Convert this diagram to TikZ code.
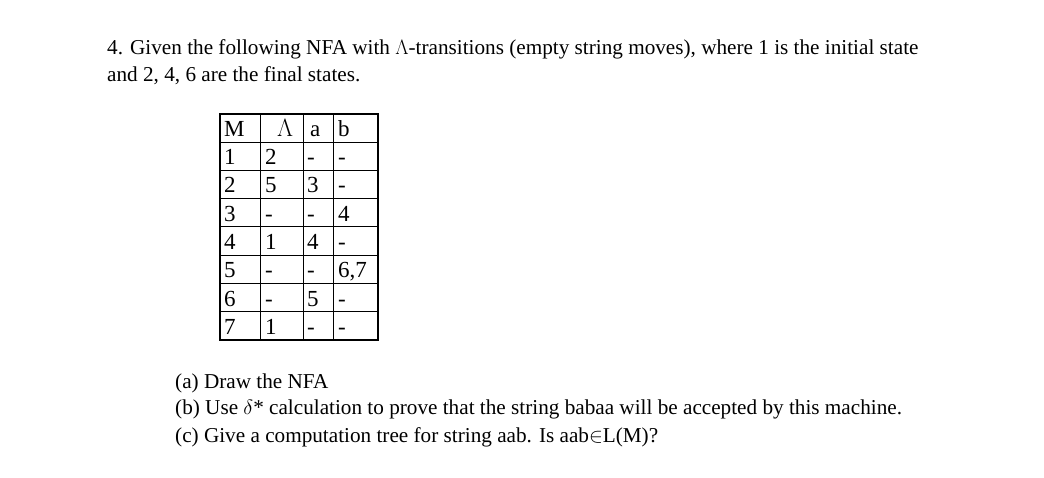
\documentclass[tikz,border=0pt]{standalone}
\usepackage{fontspec}
\setmainfont{Liberation Serif}
\begin{document}
\begin{tikzpicture}[x=1pt,y=-1pt,txt/.style={anchor=base west,inner sep=0pt,font=\fontsize{21.2}{24}\selectfont},cell/.style={anchor=base west,inner sep=0pt,font=\fontsize{23}{26}\selectfont}]
\useasboundingbox (0,0) rectangle (1044,478);
\node[txt] (l1) at (107,55) {4. Given the following NFA with $\Lambda$-transitions (empty string moves), where 1 is the initial state};
\node[txt] (l2) at (107,82) {and 2, 4, 6 are the final states.};
\draw[line width=1.2] (220,114) rectangle (378,340);
\foreach \x in {260,303,333} \draw[line width=1] (\x,114) -- (\x,340);
\foreach \y in {142.25,170.5,198.75,227,255.25,283.5,311.75} \draw[line width=1] (220,\y) -- (378,\y);
\node[cell] (m0) at (224,136.5) {M};
\node[cell] (n0) at (277,136.5) {$\Lambda$};
\node[cell] (a0) at (310,136.5) {a};
\node[cell] (b0) at (338,136.5) {b};
\foreach \r/\m/\l/\b [count=\i] in {1/2/-/-,2/5/3/-,3/-/-/4,4/1/4/-,5/-/-/6{,}7,6/-/5/-,7/1/-/-}{
  \node[cell] (m\i) at (224,136.5+28.25*\i) {\r};
  \node[cell] (n\i) at (265,136.5+28.25*\i) {\m};
  \node[cell] (a\i) at (307,136.5+28.25*\i) {\l};
  \node[cell] (b\i) at (338,136.5+28.25*\i) {\b};
}
\node[txt] (qa) at (175,388) {(a) Draw the NFA};
\node[txt] (qb) at (175,414) {(b) Use $\delta$* calculation to prove that the string babaa will be accepted by this machine.};
\node[txt] (qc) at (175,442) {(c) Give a computation tree for string aab. Is aab$\in$L(M)?};
\end{tikzpicture}
\end{document}
